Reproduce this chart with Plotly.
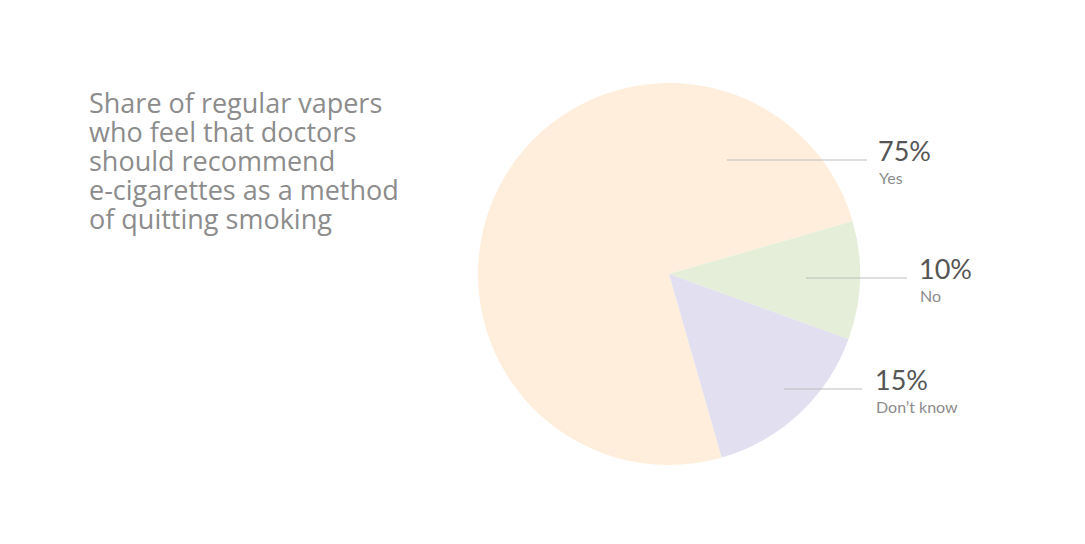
import plotly.graph_objects as go

W, H = 1085, 544

# Data
categories = ["Yes", "No", "Don\u2019t know"]
shares = [75, 10, 15]
colors = ["#FFEEDB", "#E4EED8", "#E2DFF0"]
title_lines = ["Share of regular vapers", "who feel that doctors", "should recommend",
               "e-cigarettes as a method", "of quitting smoking"]

# Layout helpers (pixel positions)
label_pos = [(878, 150), (919, 268), (875, 379)]  # left x, center y of percent text
line_pos = [(727, 867, 160), (806, 907, 278), (784, 862, 389)]

def px(x):
    return x / W

def py(y):
    return 1 - y / H

fig = go.Figure(go.Pie(
    labels=categories,
    values=shares,
    marker=dict(colors=colors, line=dict(width=0)),
    sort=False,
    direction="clockwise",
    rotation=164,
    textinfo="none",
    hoverinfo="label+percent",
    domain=dict(x=[px(478), px(860)], y=[py(465), py(83)]),
    showlegend=False,
))

annotations = []
for i, line in enumerate(title_lines):
    annotations.append(dict(
        text=line, x=px(87), y=py(102 + 29 * i), xref="paper", yref="paper",
        xanchor="left", yanchor="middle", showarrow=False,
        font=dict(family="Open Sans", size=27, color="#8C8C8C"),
    ))

shapes = []
for (lx, ly), (x0, x1, yl), cat, val in zip(label_pos, line_pos, categories, shares):
    annotations.append(dict(
        text=f"{val}%", x=px(lx - 2), y=py(ly), xref="paper", yref="paper",
        xanchor="left", yanchor="middle", showarrow=False,
        font=dict(family="Lato", size=27, color="#555555"),
    ))
    annotations.append(dict(
        text=cat, x=px(lx - 1), y=py(ly + 27), xref="paper", yref="paper",
        xanchor="left", yanchor="middle", showarrow=False,
        font=dict(family="Lato", size=16, color="#8C8C8C"),
    ))
    shapes.append(dict(
        type="line", xref="paper", yref="paper",
        x0=px(x0), x1=px(x1), y0=py(yl), y1=py(yl),
        line=dict(color="#BDBDBD", width=1),
    ))

fig.update_layout(
    width=W, height=H,
    margin=dict(l=0, r=0, t=0, b=0),
    paper_bgcolor="white",
    plot_bgcolor="white",
    annotations=annotations,
    shapes=shapes,
)

fig.write_html("out.html", config={"displayModeBar": False},
               post_script="document.body.style.margin='0';")
